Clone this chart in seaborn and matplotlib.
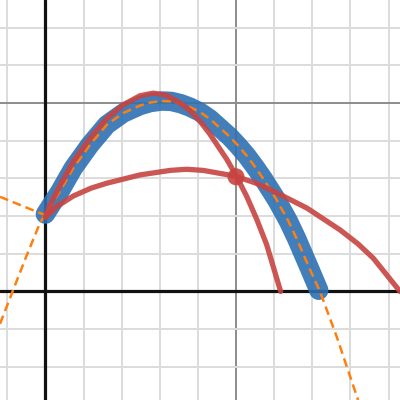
import matplotlib
matplotlib.use("Agg")
import matplotlib.pyplot as plt
from matplotlib.ticker import MultipleLocator
import seaborn as sns

sns.set_style("white")

# main parabola (orange dashed)
para_x = [-1.19, -0.86, -0.5, -0.14, 0.0, 0.38, 0.73, 1.17, 1.61, 2.04, 2.48,
          2.75, 3.05, 3.3, 3.55, 3.79, 4.05, 4.31, 4.84, 5.06, 5.28, 5.5,
          5.72, 6.07, 6.37, 6.59, 6.94, 7.2, 7.64, 8.2]
para_y = [-0.86, 0.0, 0.93, 1.82, 2.05, 2.65, 3.27, 3.89, 4.42, 4.73, 4.93,
          5.01, 5.05, 5.04, 4.98, 4.89, 4.76, 4.58, 4.1, 3.86, 3.6, 3.3,
          2.98, 2.42, 1.87, 1.4, 0.58, 0.0, -1.2, -2.88]
# short dashed piece coming in from the left
lead_x = [-1.19, 0.0]
lead_y = [2.51, 2.02]

# thick blue segment of the same curve
blue_x = [0.0, 0.38, 0.73, 1.17, 1.61, 2.04, 2.48, 2.75, 3.05, 3.3, 3.55,
          3.79, 4.05, 4.31, 4.84, 5.06, 5.28, 5.5, 5.72, 6.07, 6.37, 6.59,
          6.94, 7.17]
blue_y = [2.05, 2.65, 3.27, 3.89, 4.42, 4.73, 4.93, 5.01, 5.05, 5.04, 4.98,
          4.89, 4.76, 4.58, 4.1, 3.86, 3.6, 3.3, 2.98, 2.42, 1.87, 1.4,
          0.58, 0.03]

# steep red curve
steep_x = [0.0, 0.12, 0.38, 0.73, 1.17, 1.61, 2.04, 2.48, 2.83, 3.18, 3.53,
           3.79, 4.05, 4.31, 4.76, 5.02, 5.28, 5.54, 5.8, 6.17]
steep_y = [1.97, 2.29, 2.8, 3.44, 4.06, 4.59, 4.95, 5.19, 5.26, 5.2, 5.0,
           4.8, 4.52, 4.18, 3.5, 3.04, 2.52, 1.92, 1.25, 0.0]

# flat red curve
flat_x = [0.0, 0.3, 0.73, 1.2, 1.61, 2.48, 3.27, 3.7, 4.14, 4.97, 5.5, 5.98,
          6.86, 7.73, 8.2, 8.6, 9.3]
flat_y = [1.97, 2.25, 2.53, 2.74, 2.87, 3.09, 3.21, 3.24, 3.21, 3.06, 2.88,
          2.66, 2.21, 1.63, 1.26, 0.88, 0.0]

# intersection point
pt_x = [5.0]
pt_y = [3.04]

BLUE = "#2d70b3"
RED = "#c74440"
ORANGE = "#ff7f0e"

fig = plt.figure(figsize=(4, 4), dpi=100)
ax = fig.add_axes([0, 0, 1, 1])

ax.set_xlim(-1.19, 9.3)
ax.set_ylim(-2.88, 7.73)

# grid: light minor lines every 1, darker major lines every 5
ax.xaxis.set_minor_locator(MultipleLocator(1))
ax.yaxis.set_minor_locator(MultipleLocator(1))
ax.xaxis.set_major_locator(MultipleLocator(5))
ax.yaxis.set_major_locator(MultipleLocator(5))
ax.grid(which="minor", color="#dcdcdc", linewidth=1.4)
ax.grid(which="major", color="#8c8c8c", linewidth=1.4)
ax.set_axisbelow(True)
ax.tick_params(which="both", length=0, labelbottom=False, labelleft=False)
for s in ax.spines.values():
    s.set_visible(False)
ax.axhline(0, color="#111111", linewidth=2.3, zorder=1)
ax.axvline(0, color="#111111", linewidth=2.3, zorder=1)

sns.lineplot(x=blue_x, y=blue_y, sort=False, estimator=None, ax=ax,
             color=BLUE, alpha=0.9, linewidth=14, solid_capstyle="round",
             solid_joinstyle="round", zorder=2)
sns.lineplot(x=para_x, y=para_y, sort=False, estimator=None, ax=ax,
             color=ORANGE, linewidth=1.8, linestyle=(0, (3.5, 2)), zorder=3)
sns.lineplot(x=lead_x, y=lead_y, sort=False, estimator=None, ax=ax,
             color=ORANGE, linewidth=1.8, linestyle=(0, (3.5, 2)), zorder=3)
sns.lineplot(x=steep_x, y=steep_y, sort=False, estimator=None, ax=ax,
             color=RED, alpha=0.9, linewidth=3.8, solid_capstyle="round",
             solid_joinstyle="round", zorder=4)
sns.lineplot(x=flat_x, y=flat_y, sort=False, estimator=None, ax=ax,
             color=RED, alpha=0.9, linewidth=3.8, solid_capstyle="round",
             solid_joinstyle="round", zorder=4)
sns.scatterplot(x=pt_x, y=pt_y, ax=ax, color=RED, alpha=0.9, s=150,
                edgecolor="none", zorder=5)

ax.set_xlabel("")
ax.set_ylabel("")
fig.savefig("out.png", dpi=100)
